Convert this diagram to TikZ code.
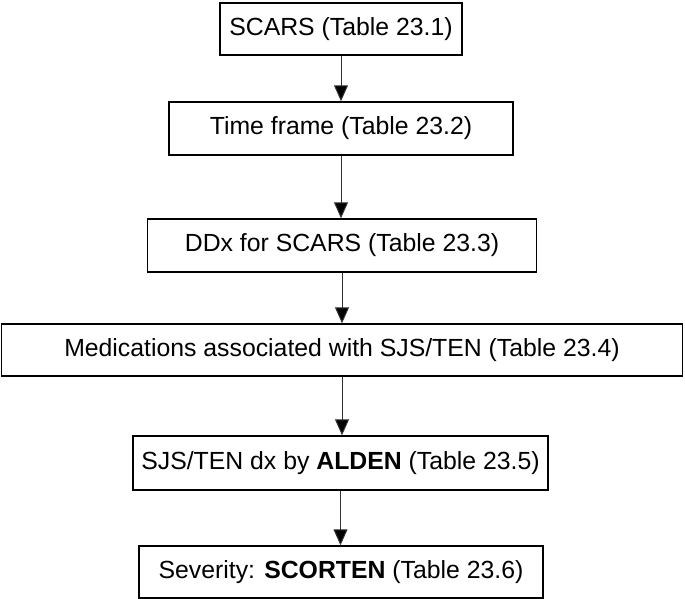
\documentclass[tikz,border=0pt]{standalone}
\usepackage{fontspec}
\setmainfont{Liberation Sans}
\usetikzlibrary{arrows.meta}
\tikzset{
  flowbox/.style={draw=black, line width=1.4pt, inner sep=0pt, fill=white,
    font=\fontsize{24.8}{29}\selectfont, text=black},
  flowarrow/.style={line width=1pt, draw=black!80, -{Triangle[length=16pt,width=14pt,fill=black]}}
}
\begin{document}
\begin{tikzpicture}[x=1pt,y=-1pt]
\useasboundingbox (0,0) rectangle (685,599);
\node[flowbox, minimum width=242pt, minimum height=52pt] (b1) at (341,29) {SCARS (Table 23.1)};
\node[flowbox, minimum width=344pt, minimum height=53pt] (b2) at (341,128.5) {Time frame (Table 23.2)};
\node[flowbox, minimum width=389pt, minimum height=53pt] (b3) at (342,245.5) {DDx for SCARS (Table 23.3)};
\node[flowbox, minimum width=681pt, minimum height=52pt] (b4) at (342,350) {Medications associated with SJS/TEN (Table 23.4)};
\node[flowbox, minimum width=415pt, minimum height=54pt] (b5) at (340.5,463) {SJS/TEN dx by \textbf{ALDEN} (Table 23.5)};
\node[flowbox, minimum width=404pt, minimum height=52pt] (b6) at (341,572) {Severity: \textbf{SCORTEN} (Table 23.6)};
\draw[flowarrow] (b1.south) -- (b1.south |- b2.north);
\draw[flowarrow] (b2.south) -- (b2.south |- b3.north);
\draw[flowarrow] (b3.south) -- (b3.south |- b4.north);
\draw[flowarrow] (b4.south) -- (b4.south |- b5.north);
\draw[flowarrow] (b5.south) -- (b5.south |- b6.north);
\end{tikzpicture}
\end{document}
